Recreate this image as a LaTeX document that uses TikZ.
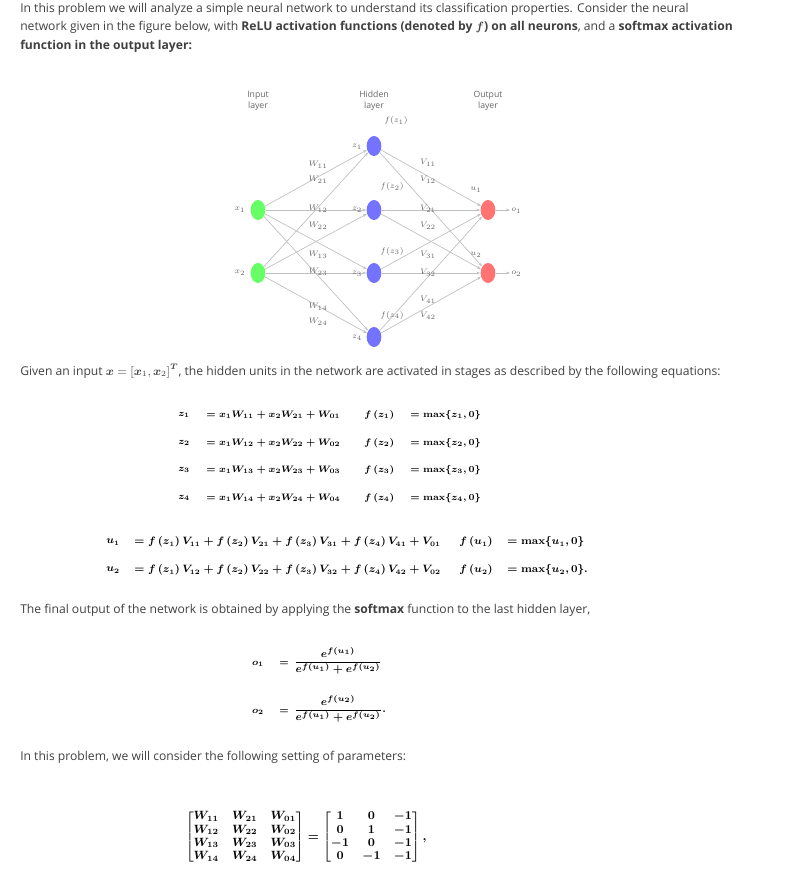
\documentclass[tikz,border=0pt]{standalone}
\usepackage{amsmath,amssymb,bm}
\usepackage{fontspec}
\setmainfont{Open Sans}
\usetikzlibrary{arrows.meta,shapes.geometric}
\begin{document}
\begin{tikzpicture}[x=0.75pt,y=-0.75pt,
  txt/.style={anchor=west,inner sep=0,font=\fontsize{9.1}{11}\selectfont,text=black!75},
  eq/.style={inner sep=0,font=\fontsize{7.4}{9}\selectfont\boldmath},
  equ/.style={inner sep=0,font=\fontsize{7.8}{9}\selectfont\boldmath},
  eqb/.style={inner sep=0,font=\fontsize{8.2}{10}\selectfont\boldmath},
  neu/.style={ellipse,minimum width=11pt,minimum height=15pt,inner sep=0},
  lab/.style={inner sep=0,font=\fontsize{6.5}{7}\selectfont,text=black!60},
  edge/.style={draw=black!25,line width=0.5pt,-{Stealth[length=3pt,width=2pt]}}]
\useasboundingbox (0,0) rectangle (788,884);
% intro text
\node[txt] (t1) at (20,9) {In this problem we will analyze a simple neural network to understand its classification properties. Consider the neural};
\node[txt] (t2) at (20,27) {network given in the figure below, with \textbf{ReLU activation functions (denoted by $\bm f$) on all neurons}, and a \textbf{softmax activation}};
\node[txt] (t3) at (20,46) {\textbf{function in the output layer:}};
% network
\node[lab,align=center,font=\fontsize{6.5}{8}\rmfamily] (li) at (258,101) {Input\\layer};
\node[lab,align=center,font=\fontsize{6.5}{8}\rmfamily] (lh) at (374,101) {Hidden\\layer};
\node[lab,align=center,font=\fontsize{6.5}{8}\rmfamily] (lo) at (488,101) {Output\\layer};
\node[neu,fill=green!60] (x1) at (258,210) {};
\node[neu,fill=green!60] (x2) at (258,273) {};
\foreach \i/\y in {1/146,2/210,3/273,4/337}{\node[neu,fill=blue!55] (h\i) at (374,\y) {};}
\node[neu,fill=red!55] (y1) at (488,210) {};
\node[neu,fill=red!55] (y2) at (488,273) {};
\foreach \a in {x1,x2}{\foreach \b in {h1,h2,h3,h4}{\draw[edge] (\a) -- (\b);}}
\foreach \a in {h1,h2,h3,h4}{\foreach \b in {y1,y2}{\draw[edge] (\a) -- (\b);}}
\coordinate (e1) at (510,210); \coordinate (e2) at (510,273);
\draw[edge] (y1) -- (e1); \draw[edge] (y2) -- (e2);
\node[lab,anchor=west] (o1) at (511,211) {$o_1$};
\node[lab,anchor=west] (o2) at (511,274) {$o_2$};
\node[lab] (lx1) at (240,210) {$x_1$};
\node[lab] (lx2) at (240,273) {$x_2$};
\foreach \i/\y in {1/147,2/210,3/274,4/338}{\node[lab] (lz\i) at (357,\y) {$z_\i$};}
\node[lab] (f1) at (396,121) {$f(z_1)$};
\node[lab] (f2) at (392,187) {$f(z_2)$};
\node[lab] (f3) at (392,251) {$f(z_3)$};
\node[lab] (f4) at (392,315) {$f(z_4)$};
\node[lab] (u1) at (476,190) {$u_1$};
\node[lab] (u2) at (476,255) {$u_2$};
\foreach \n/\y in {11/165,21/180,12/209,22/226,13/255,23/272,14/307,24/322}{\node[lab] (w\n) at (318,\y) {$W_{\n}$};}
\foreach \n/\y in {11/163,12/180,21/209,22/226,31/255,32/273,41/300,42/316}{\node[lab] (v\n) at (428,\y) {$V_{\n}$};}
% given
\node[txt] (g) at (20,371) {Given an input $\bm x=\left[\bm x_1,\bm x_2\right]^{\bm T}$, the hidden units in the network are activated in stages as described by the following equations:};
\foreach \i/\y in {1/415,2/443,3/470,4/498}{
 \node[eq,anchor=west] (zl\i) at (178,\y) {$z_\i$};
 \node[eq,anchor=west] (zr\i) at (206,\y) {$= x_1 W_{1\i} + x_2 W_{2\i} + W_{0\i}$};
 \node[eq,anchor=west] (fz\i) at (364,\y) {$f\,(z_\i)$};
 \node[eq,anchor=west] (mz\i) at (410,\y) {$= \mathbf{max}\{z_\i,0\}$};
}
\node[equ,anchor=west] (ul1) at (106,542) {$u_1$};
\node[equ,anchor=west] (ur1) at (134,542) {$= f\,(z_1)\,V_{11} + f\,(z_2)\,V_{21} + f\,(z_3)\,V_{31} + f\,(z_4)\,V_{41} + V_{01}$};
\node[equ,anchor=west] (fu1) at (459,542) {$f\,(u_1)$};
\node[equ,anchor=west] (mu1) at (507,542) {$= \mathbf{max}\{u_1,0\}$};
\node[equ,anchor=west] (ul2) at (106,570) {$u_2$};
\node[equ,anchor=west] (ur2) at (134,570) {$= f\,(z_1)\,V_{12} + f\,(z_2)\,V_{22} + f\,(z_3)\,V_{32} + f\,(z_4)\,V_{42} + V_{02}$};
\node[equ,anchor=west] (fu2) at (459,570) {$f\,(u_2)$};
\node[equ,anchor=west] (mu2) at (507,570) {$= \mathbf{max}\{u_2,0\}.$};
\node[txt] (fin) at (20,610) {The final output of the network is obtained by applying the \textbf{softmax} function to the last hidden layer,};
\node[eq] (ol1) at (258,664) {$o_1$};
\node[eq] (oe1) at (284,664) {$=$};
\node[eqb] (of1) at (338,661) {$\dfrac{e^{f(u_1)}}{e^{f(u_1)}+e^{f(u_2)}}$};
\node[eq] (ol2) at (258,712) {$o_2$};
\node[eq] (oe2) at (284,712) {$=$};
\node[eqb] (of2) at (340,709) {$\dfrac{e^{f(u_2)}}{e^{f(u_1)}+e^{f(u_2)}}.$};
\node[txt] (cons) at (20,757) {In this problem, we will consider the following setting of parameters:};
\node[eqb,font=\fontsize{8.8}{10}\selectfont\boldmath] (mat) at (306,837) {$\begin{bmatrix} W_{11} & W_{21} & W_{01}\\ W_{12} & W_{22} & W_{02}\\ W_{13} & W_{23} & W_{03}\\ W_{14} & W_{24} & W_{04}\end{bmatrix} = \begin{bmatrix} 1 & 0 & -1\\ 0 & 1 & -1\\ -1 & 0 & -1\\ 0 & -1 & -1\end{bmatrix},$};
\end{tikzpicture}
\end{document}
